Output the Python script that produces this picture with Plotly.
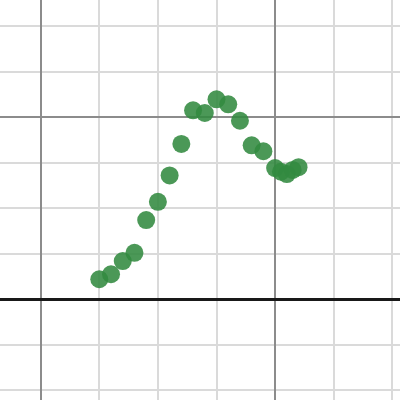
import plotly.graph_objects as go

x_values = [5.0, 5.2, 5.4, 5.6, 5.8, 6.0, 6.2, 6.4, 6.6, 6.8, 7.0, 7.2, 7.4, 7.6, 7.8,
            8.0, 8.1, 8.2, 8.3, 8.4]
y_values = [0.44, 0.55, 0.84, 1.02, 1.74, 2.14, 2.72, 3.41, 4.15, 4.09, 4.39, 4.28,
            3.92, 3.38, 3.25, 2.88, 2.80, 2.75, 2.84, 2.90]

x_range = [3.3055, 10.131]
y_range = [-2.211, 6.571]

fig = go.Figure()
fig.add_trace(go.Scatter(
    x=x_values, y=y_values, mode="markers",
    marker=dict(size=18, color="rgb(50,138,64)", opacity=0.88, line=dict(width=0)),
    hoverinfo="skip", showlegend=False,
))

axis_common = dict(
    showticklabels=False, ticks="", showline=False,
    dtick=4, tick0=0, gridcolor="rgb(140,140,140)", gridwidth=1.5,
    minor=dict(dtick=1, tick0=0, gridcolor="rgb(218,218,218)", gridwidth=1.5, showgrid=True),
    fixedrange=True,
)

fig.update_xaxes(range=x_range, zeroline=False, **axis_common)
fig.update_yaxes(range=y_range, zeroline=True, zerolinecolor="rgb(25,25,25)", zerolinewidth=3,
                 **axis_common)

fig.update_layout(
    width=400, height=400,
    margin=dict(l=0, r=0, t=0, b=0),
    paper_bgcolor="white", plot_bgcolor="white",
)

fig.write_html("out.html", config={"displayModeBar": False},
               post_script="document.body.style.margin='0';document.body.style.overflow='hidden';")
